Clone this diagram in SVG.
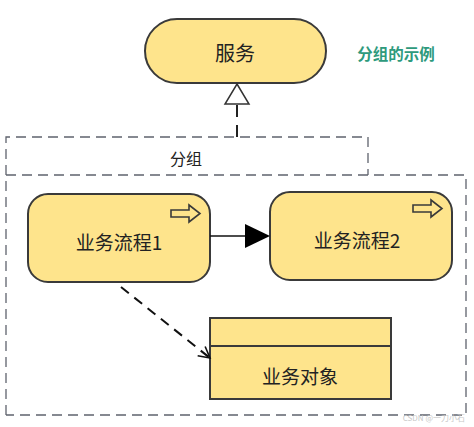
<svg xmlns="http://www.w3.org/2000/svg" width="474" height="427" viewBox="0 0 474 427">
<style>
.node{fill:#fee48c;stroke:#3a3a3a;stroke-width:2}
.t{font-family:"Noto Sans CJK SC","Noto Sans",sans-serif;fill:#222;text-anchor:middle;dominant-baseline:central}
.grp{fill:none;stroke:#5f636d;stroke-width:1.3;stroke-dasharray:10 6}
.icon{fill:none;stroke:#3a3a3a;stroke-width:1.6;stroke-linejoin:miter}
</style>
<defs>
<marker id="hollow" markerWidth="14" markerHeight="14" refX="12" refY="7" orient="auto" markerUnits="userSpaceOnUse">
<path d="M1,1 L12,7 L1,13" fill="none" stroke="#111" stroke-width="1.6"/>
</marker>
</defs>
<rect width="474" height="427" fill="#fff"/>
<g id="group">
<path class="grp" d="M6,415 V137 H368 V175"/>
<path class="grp" d="M6,175 H466 V415 H6"/>
<text class="t" x="186" y="158" font-size="16">分组</text>
</g>
<g id="service">
<rect class="node" x="145" y="19" width="181" height="64" rx="32"/>
<text class="t" x="235" y="52" font-size="20">服务</text>
</g>
<text class="t" x="396" y="53" font-size="15.5" font-weight="bold" style="fill:#2e9a7c">分组的示例</text>
<g id="process1">
<rect class="node" x="28" y="194" width="182" height="88" rx="20"/>
<path class="icon" d="M171,210 H189 V205 L200,213.5 L189,222 V217 H171 Z"/>
<text class="t" x="119" y="241" font-size="19">业务流程1</text>
</g>
<g id="process2">
<rect class="node" x="270" y="192" width="182" height="88" rx="20"/>
<path class="icon" d="M413,205 H431 V200 L442,208.5 L431,217 V212 H413 Z"/>
<text class="t" x="357" y="239" font-size="19">业务流程2</text>
</g>
<g id="object">
<rect class="node" x="210" y="318" width="181" height="81"/>
<line x1="210" y1="346" x2="391" y2="346" stroke="#3a3a3a" stroke-width="2"/>
<text class="t" x="300" y="375" font-size="19">业务对象</text>
</g>
<g id="connectors">
<line x1="237" y1="137" x2="237" y2="104" stroke="#222" stroke-width="2" stroke-dasharray="12 8"/>
<path d="M237,84 L249,104 L225,104 Z" fill="#fff" stroke="#333" stroke-width="1.5"/>
<line x1="210" y1="236" x2="246" y2="236" stroke="#111" stroke-width="1.6"/>
<path d="M245,224 L270,236 L245,248 Z" fill="#000"/>
<line x1="121" y1="287" x2="210" y2="358" stroke="#111" stroke-width="2" stroke-dasharray="10 7" marker-end="url(#hollow)"/>
</g>
<text x="465" y="421" font-family="Noto Sans CJK SC,sans-serif" font-size="8" fill="#c8c8c8" text-anchor="end">CSDN @一刀小石</text>
</svg>
